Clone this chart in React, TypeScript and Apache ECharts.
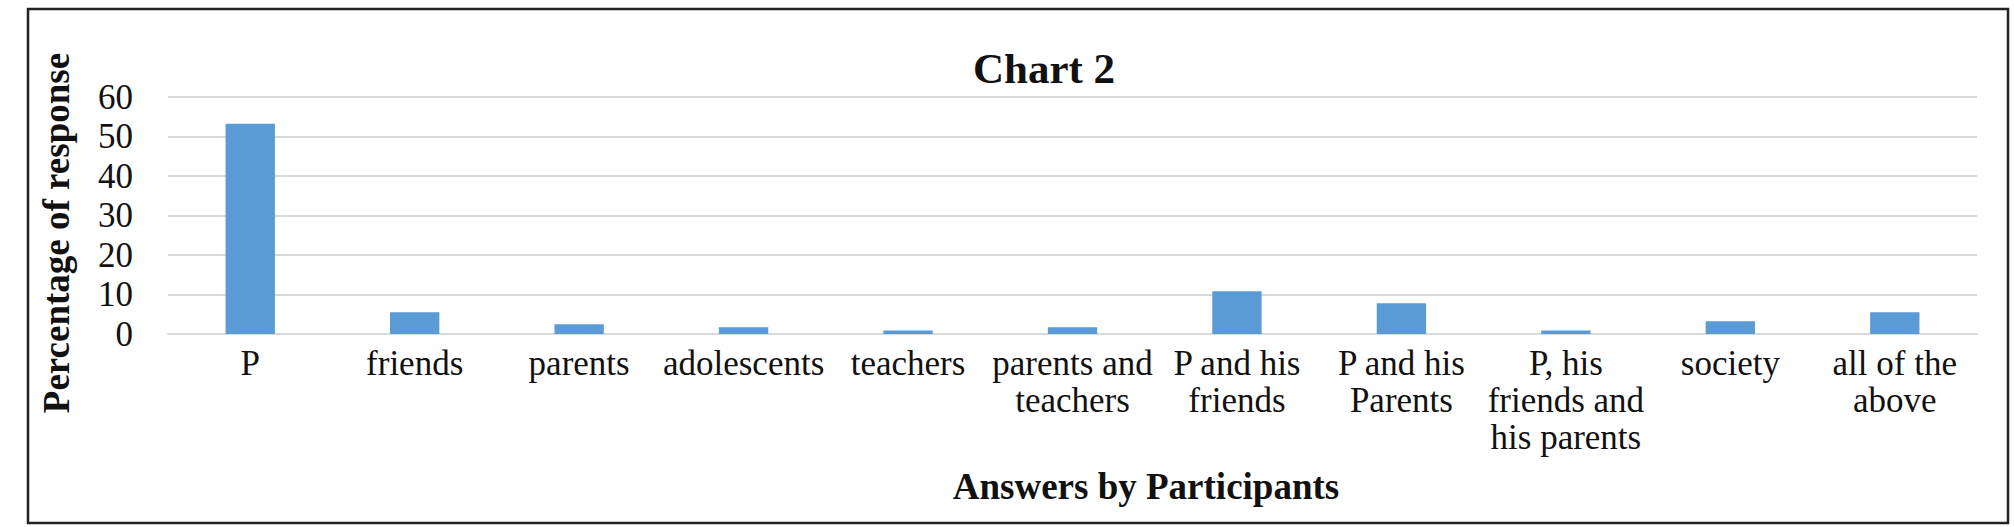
import * as echarts from "echarts";
import { useEffect, useRef } from "react";

const categories = [
	"P",
	"friends",
	"parents",
	"adolescents",
	"teachers",
	"parents and teachers",
	"P and his friends",
	"P and his Parents",
	"P, his friends and his parents",
	"society",
	"all of the above"
];

const tickLabels = [
	"P",
	"friends",
	"parents",
	"adolescents",
	"teachers",
	"parents and\nteachers",
	"P and his\nfriends",
	"P and his\nParents",
	"P, his\nfriends and\nhis parents",
	"society",
	"all of the\nabove"
];

const responses = [53.2, 5.5, 2.5, 1.7, 0.9, 1.7, 10.8, 7.8, 0.9, 3.2, 5.5];

const serif = '"Liberation Serif", "Times New Roman", serif';

export default function App() {
	const chartRef = useRef<HTMLDivElement>(null);

	useEffect(() => {
		if (!chartRef.current) return;
		const chart = echarts.init(chartRef.current, null, { renderer: "svg" });

		const option: echarts.EChartsOption = {
			animation: false,
			backgroundColor: "#ffffff",
			title: {
				text: "Chart 2",
				left: 1039,
				top: 42,
				textAlign: "center",
				textStyle: { fontFamily: serif, fontSize: 43, fontWeight: "bold", color: "#111" }
			},
			grid: { left: 168, right: 37, top: 97, bottom: 193 },
			xAxis: {
				type: "category",
				data: categories,
				axisLine: { show: true, lineStyle: { color: "#d9d9d9", width: 2 } },
				axisTick: { show: false },
				axisLabel: {
					interval: 0,
					margin: 11,
					fontFamily: serif,
					fontSize: 35,
					lineHeight: 37,
					color: "#111",
					formatter: (_v: string, i: number) => tickLabels[i]
				}
			},
			yAxis: {
				type: "value",
				min: 0,
				max: 60,
				interval: 10,
				axisLine: { show: false },
				axisTick: { show: false },
				axisLabel: { margin: 35, fontFamily: serif, fontSize: 35, color: "#111" },
				splitLine: { lineStyle: { color: "#d9d9d9", width: 2 } }
			},
			series: [
				{
					type: "bar",
					name: "Percentage of response",
					data: responses,
					barCategoryGap: "70%",
					itemStyle: { color: "#5b9bd5" }
				}
			],
			graphic: [
				{
					type: "rect",
					shape: { x: 28, y: 9, width: 1980, height: 514 },
					style: { fill: "none", stroke: "#222", lineWidth: 2.5 },
					z: 10
				},
				{
					type: "text",
					x: 56,
					y: 233,
					rotation: Math.PI / 2,
					style: {
						text: "Percentage of response",
						fontFamily: serif,
						fontSize: 37,
						fontWeight: "bold",
						fill: "#111",
						align: "center",
						verticalAlign: "middle"
					}
				},
				{
					type: "text",
					x: 1146,
					y: 486,
					style: {
						text: "Answers by Participants",
						fontFamily: serif,
						fontSize: 37,
						fontWeight: "bold",
						fill: "#111",
						align: "center",
						verticalAlign: "middle"
					}
				}
			]
		};

		chart.setOption(option);
		return () => chart.dispose();
	}, []);

	return (
		<div
			ref={chartRef}
			style={{ position: "absolute", left: 0, top: 0, width: 2014, height: 527 }}
		/>
	);
}
